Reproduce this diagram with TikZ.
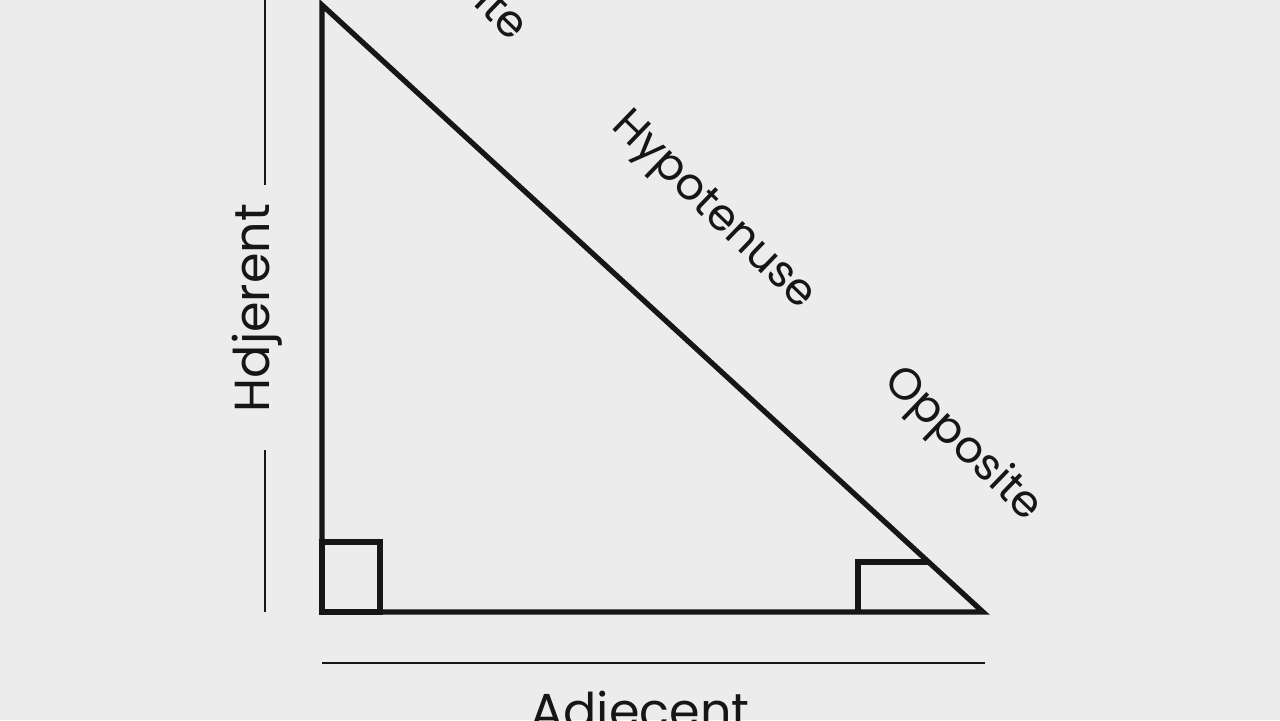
\documentclass[tikz,border=0pt]{standalone}
\usepackage{fontspec}
\setmainfont{Poppins}
\definecolor{paper}{RGB}{236,236,236}
\definecolor{ink}{RGB}{22,22,22}
\begin{document}
\begin{tikzpicture}[x=0.1mm,y=0.1mm]

\tikzset{side/.style={line width=1.5pt, ink, line join=miter}}
\tikzset{guide/.style={line width=0.7pt, ink}}
\tikzset{word/.style={inner sep=0pt, text=ink, font=\fontsize{14}{16}\selectfont}}
\tikzset{slant/.style={word, rotate=-44, font=\fontsize{12.6}{15}\selectfont}}

\fill[paper] (0,0) rectangle (1280,720);
\useasboundingbox (0,0) rectangle (1280,720);

% triangle
\coordinate (top) at (322,715);
\coordinate (corner) at (322,108);
\coordinate (tip) at (983,108);
\draw[side] (top) -- (corner) -- (tip) -- cycle;

% right angle marks
\draw[side] (corner) rectangle (380,178);
\draw[side] (858,108) -- (858,158) -- (928,158);

% guide lines
\draw[guide] (265,720) -- (265,535);
\draw[guide] (265,270) -- (265,108);
\draw[guide] (322,57) -- (985,57);

% labels
\node[word, rotate=90] (adjleft) at (257,412) {Hdjerent};
\node[word, anchor=base] (adjbottom) at (640,-8) {Adjecent};
\node[slant] (hyp) at (712,508) {Hypotenuse};
\node[slant] (opp) at (962,275) {Opposite};
\node[slant] (opptop) at (447,755) {Opposite};

\end{tikzpicture}
\end{document}
